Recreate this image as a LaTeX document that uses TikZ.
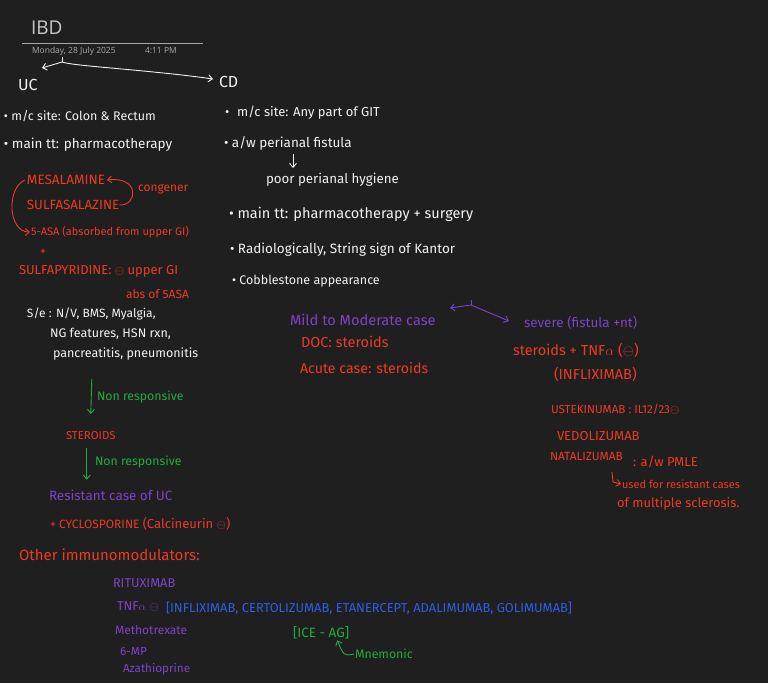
\documentclass[tikz,border=0pt]{standalone}
\usepackage{fontspec}
\setmainfont{Fira Sans}
\newfontfamily\hdrfont{Open Sans}
\usetikzlibrary{arrows.meta}
\definecolor{bg}{HTML}{1F1F1F}
\definecolor{ink}{HTML}{F2F2F2}
\definecolor{hdr}{HTML}{C8C8C8}
\definecolor{hdrsub}{HTML}{A8A8A8}
\definecolor{rink}{HTML}{EE3A22}
\definecolor{gink}{HTML}{1FAE3C}
\definecolor{pink}{HTML}{7E42C8}
\definecolor{bink}{HTML}{2D5EE6}
\newcommand\fs[1]{\fontsize{#1}{#1}\selectfont}
\begin{document}
\begin{tikzpicture}[x=1pt,y=-1pt,
  every node/.style={inner sep=0pt, outer sep=0pt, anchor=west},
  wt/.style={text=ink, font=\fs{12.5}},
  rt/.style={text=rink, font=\fs{12}},
  rc/.style={text=rink, font=\fs{13}},
  gt/.style={text=gink, font=\fs{12.3}},
  pt/.style={text=pink, font=\fs{13.5}},
  pc/.style={text=pink, font=\fs{12.8}},
  bc/.style={text=bink, font=\fs{12.9}},
  tip/.style={-{Straight Barb[length=4pt,width=7pt]}, line width=0.9pt},
  warr/.style={tip, draw=ink},
  rarr/.style={tip, draw=rink},
  garr/.style={tip, draw=gink},
  parr/.style={{Straight Barb[length=4pt,width=7pt]}-{Straight Barb[length=4pt,width=7pt]}, line width=0.9pt, draw=pink},
]
\fill[bg] (0,0) rectangle (768,683);
\useasboundingbox (0,0) rectangle (768,683);

% header
\node[text=hdr, font=\hdrfont\fs{19}] (ibd) at (31,28) {IBD};
\draw[hdrsub, line width=0.6pt] (22,43) -- (203,43);
\node[text=hdrsub, font=\hdrfont\fs{8.5}] (date) at (32,51) {Monday, 28 July 2025};
\node[text=hdrsub, font=\hdrfont\fs{8.5}] (time) at (145,51) {4:11 PM};

% UC / CD
\node[wt, font=\fs{16}] (uc) at (18,85) {UC};
\node[wt, font=\fs{16}] (cd) at (219,82) {CD};
\coordinate (split) at (62,62);
\coordinate (ucin) at (42,68);
\draw[ink, line width=0.9pt] (62,57) -- (split);
\draw[warr] (split) -- (ucin);
\draw[warr] (split) .. controls (72,66) and (150,70) .. ([xshift=-6pt,yshift=3pt]cd.west);

% UC column
\node[wt] (ucsite) at (4,116) {• m/c site: Colon \& Rectum};
\node[wt, font=\fs{13.5}] (uctt) at (4,145) {• main tt: pharmacotherapy};
\node[rc, font=\fs{13.5}] (mes) at (27,180) {MESALAMINE};
\node[rc, font=\fs{13.3}] (sulfs) at (27,205) {SULFASALAZINE};
\node[rt] (cong) at (138,189) {congener};
\draw[rarr] (sulfs.east) .. controls (138,206) and (140,176) .. ([xshift=2pt]mes.east);
\node[rt, font=\fs{11}] (asa) at (31,232) {5-ASA (absorbed from upper GI)};
\draw[rarr] ([xshift=-2pt]mes.west) .. controls (6,188) and (8,232) .. ([xshift=-1pt]asa.west);
\node[rt] (plus) at (40,252) {+};
\node[rc] (sulfp) at (19,271) {SULFAPYRIDINE: $\ominus$ \fs{13}upper GI};
\node[rt] (abs) at (126,294) {abs of 5ASA};
\node[wt, font=\fs{12}] (se1) at (27,314) {S/e : N/V, BMS, Myalgia,};
\node[wt] (se2) at (50,334) {NG features, HSN rxn,};
\node[wt] (se3) at (53,354) {pancreatitis, pneumonitis};
\node[rc, font=\fs{11.4}] (ster) at (66,436) {STEROIDS};
\draw[garr] ([xshift=1pt,yshift=-19pt]se3.south -| ster.north) -- ([yshift=18pt]ster.north);
\node[gt] (nr1) at (97,397) {Non responsive};
\node[pt] (resist) at (49,495) {Resistant case of UC};
\draw[garr] ([xshift=-4pt,yshift=-8pt]ster.south) -- ([xshift=-4pt,yshift=10pt]ster.south |- resist.north);
\node[gt] (nr2) at (95,462) {Non responsive};
\node[rc, font=\fs{12}] (cyclo) at (50,524) {+ CYCLOSPORINE \fs{13}(Calcineurin $\ominus$)};
\node[rt, font=\fs{15}] (other) at (19,555) {Other immunomodulators:};
\node[pc] (ritux) at (113,583) {RITUXIMAB};
\node[pc] (tnf) at (117,607) {TNF$\alpha$ $\ominus$};
\node[bc] (list) at (166,608) {[INFLIXIMAB, CERTOLIZUMAB, ETANERCEPT, ADALIMUMAB, GOLIMUMAB]};
\node[pt, font=\fs{12}] (mtx) at (115,630) {Methotrexate};
\node[pt, font=\fs{11.7}] (mp) at (120,652) {6-MP};
\node[pt, font=\fs{11.7}] (aza) at (123,669) {Azathioprine};
\node[gt, font=\fs{13.5}] (ice) at (293,633) {[ICE - AG]};
\node[gt] (mnem) at (355,654) {Mnemonic};
\draw[garr] ([xshift=-1pt]mnem.west) .. controls (344,656) .. ([xshift=-12pt,yshift=-1pt]ice.south east);

% CD column
\node[wt, font=\fs{13}] (cdsite) at (225,113) {•\hspace{8pt}m/c site: Any part of GIT};
\node[wt, font=\fs{13.5}] (cdfist) at (224,143) {• a/w perianal fistula};
\node[wt, font=\fs{13.3}] (hyg) at (266,180) {poor perianal hygiene};
\draw[warr] (293,154) -- (293,168);
\node[wt, font=\fs{14.5}] (cdtt) at (229,214) {• main tt: pharmacotherapy + surgery};
\node[wt, font=\fs{13.5}] (radio) at (230,250) {• Radiologically, String sign of Kantor};
\node[wt] (cobble) at (232,281) {• Cobblestone appearance};

% severity split
\coordinate (pj) at (471,305);
\draw[pink, line width=0.9pt] (pj) -- ++(0,-5);
\draw[parr] (450,308) -- (pj) -- (509,321);
\node[pt, font=\fs{14.6}] (mild) at (290,320) {Mild to Moderate case};
\node[rt, font=\fs{14.5}] (doc) at (301,342) {DOC: steroids};
\node[rt, font=\fs{14.2}] (acute) at (300,368) {Acute case: steroids};
\node[pt] (severe) at (524,323) {severe (fistula +nt)};
\node[rt, font=\fs{14.5}] (sevtx) at (513,350) {steroids + TNF$\alpha$ ($\ominus$)};
\node[rc, font=\fs{14.5}] (infl) at (554,374) {(INFLIXIMAB)};
\node[rc, font=\fs{11.6}] (uste) at (551,409) {USTEKINUMAB : IL12/23$\ominus$};
\node[rc] (vedo) at (557,436) {VEDOLIZUMAB};
\node[rc, font=\fs{11.8}] (nata) at (550,456) {NATALIZUMAB};
\node[rt, font=\fs{13}] (pml) at (633,462) {: a/w PMLE};
\node[rt, font=\fs{11}] (ms1) at (622,484) {used for resistant cases};
\node[rt, font=\fs{13}] (ms2) at (617,504) {of multiple sclerosis.};
\draw[rarr] (612,472) -- (613,482) -- ([xshift=-1pt]ms1.west);
\end{tikzpicture}
\end{document}
